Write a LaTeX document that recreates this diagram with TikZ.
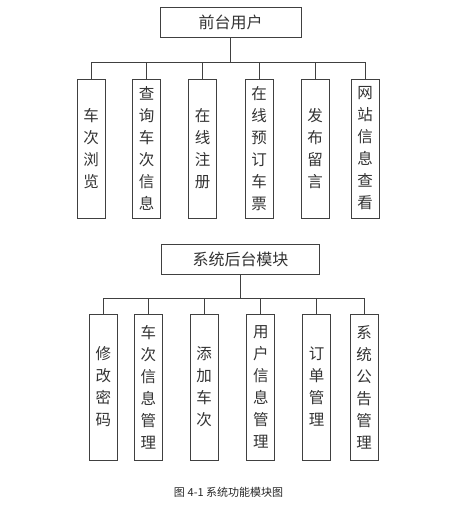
\documentclass[tikz,border=0pt]{standalone}
\usepackage{fontspec}
\newfontfamily\cjk{Noto Sans CJK SC}
\begin{document}
\begin{tikzpicture}[x=1pt,y=-1pt,
  line width=0.9pt, draw=black!75,
  every node/.style={draw=black!75, line width=0.9pt, inner sep=0pt, text=black!80},
  headbox/.style={minimum width=140pt, minimum height=30pt, font=\cjk\fontsize{16}{18}\selectfont},
  colbox/.style={minimum width=28pt, align=center, font=\cjk\fontsize{15.5}{22}\selectfont},
  topcol/.style={colbox, minimum height=139pt},
  botcol/.style={colbox, minimum height=146pt},
  wire/.style={draw=black!75, line width=0.9pt}
]
\useasboundingbox (0,0) rectangle (474,507);
% ---------- upper diagram ----------
\node[headbox, minimum width=141pt] (ta) at (230.5,22) {前台用户};
\coordinate (bt) at (0,62);
\node[topcol] (a1) at (91,148.5) {车\\次\\浏\\览};
\node[topcol] (a2) at (146.7,148.5) {查\\询\\车\\次\\信\\息};
\node[topcol] (a3) at (202.5,148.5) {在\\线\\注\\册};
\node[topcol] (a4) at (259,148.5) {在\\线\\预\\订\\车\\票};
\node[topcol] (a5) at (315,148.5) {发\\布\\留\\言};
\node[topcol] (a6) at (365,148.5) {网\\站\\信\\息\\查\\看};
\draw[wire] (ta.south) -- (ta.south |- bt);
\draw[wire] (a1.north) -- (a1.north |- bt) -| (a6.north);
\foreach \n in {a2,a3,a4,a5} \draw[wire] (\n.north) -- (\n.north |- bt);
% ---------- lower diagram ----------
\node[headbox, minimum width=157.5pt] (tb) at (240.5,259) {系统后台模块};
\coordinate (bb) at (0,298.3);
\node[botcol] (b1) at (103.3,387) {修\\改\\密\\码};
\node[botcol] (b2) at (148.3,387) {车\\次\\信\\息\\管\\理};
\node[botcol] (b3) at (204,387) {添\\加\\车\\次};
\node[botcol] (b4) at (260.8,387) {用\\户\\信\\息\\管\\理};
\node[botcol] (b5) at (316.5,387) {订\\单\\管\\理};
\node[botcol] (b6) at (364.2,387) {系\\统\\公\\告\\管\\理};
\draw[wire] (tb.south) -- (tb.south |- bb);
\draw[wire] (b1.north) -- (b1.north |- bb) -| (b6.north);
\foreach \n in {b2,b3,b4,b5} \draw[wire] (\n.north) -- (\n.north |- bb);
% ---------- caption ----------
\node[draw=none, font=\cjk\fontsize{11}{12}\selectfont, text=black!85] (cap) at (228.5,492) {图\hspace{3pt}4-1 系统功能模块图};
\end{tikzpicture}
\end{document}
